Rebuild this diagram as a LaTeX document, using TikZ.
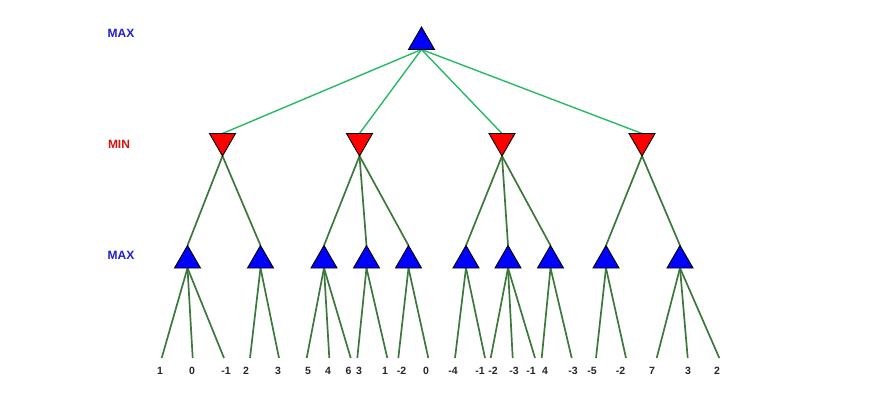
\documentclass[tikz,border=0pt]{standalone}
\usepackage{fontspec}
\setmainfont{Liberation Sans}
\usetikzlibrary{shapes.geometric,backgrounds}
\definecolor{edgeup}{RGB}{40,185,100}
\definecolor{edgelow}{RGB}{60,120,60}
\definecolor{maxlbl}{RGB}{30,30,210}
\definecolor{minlbl}{RGB}{205,20,20}
\tikzset{
  maxnode/.style={regular polygon, regular polygon sides=3, minimum size=30pt, inner sep=0pt, outer sep=0pt, fill=blue, draw=black, line width=0.9pt},
  minnode/.style={maxnode, fill=red, shape border rotate=180},
  upedge/.style={draw=edgeup, line width=1.4pt},
  lowedge/.style={draw=edgelow, line width=1.7pt},
  leaflbl/.style={font=\bfseries\fontsize{10.5}{12}\selectfont, text=black!85, inner sep=0pt},
  lvllbl/.style={font=\bfseries\fontsize{12}{14}\selectfont, inner sep=0pt}
}
\begin{document}
\begin{tikzpicture}[x=1pt,y=-1pt]
\useasboundingbox (0,0) rectangle (869,402);
% level labels
\node[lvllbl, text=maxlbl] (l0) at (121,33) {MAX};
\node[lvllbl, text=minlbl] (l1) at (119,144) {MIN};
\node[lvllbl, text=maxlbl] (l2) at (121,255) {MAX};
% root
\node[maxnode] (r) at (421.5,42) {};
% MIN nodes
\foreach \n/\x in {m1/222.5, m2/359.5, m3/502, m4/642}
  \node[minnode] (\n) at (\x,141) {};
% MAX nodes
\foreach \n/\x in {a1/187.5, a2/260.5, a3/324, a4/366.5, a5/408.5, a6/466, a7/508, a8/550.5, a9/606, a10/680}
  \node[maxnode] (\n) at (\x,260.5) {};
% leaves: name/line-end x/label x/text
\foreach \n/\x/\lx/\t in {
  b1/161.7/160/1, b2/192.7/192/0, b3/224/226/-1,
  b4/250/246/2, b5/279/278/3,
  b6/306.7/308/5, b7/329.3/328/4, b8/350.7/348.5/6,
  b9/357.3/359/3, b10/387.3/385/1,
  b11/398.3/401.5/-2, b12/428.3/426/0,
  b13/455/453/-4, b14/485/480/-1,
  b15/490.7/493/-2, b16/512.7/514/-3, b17/535/531/-1,
  b18/541.7/545/4, b19/571.7/573/-3,
  b20/596/592/-5, b21/626/620.5/-2,
  b22/656.7/652/7, b23/687.7/688/3, b24/719.3/717/2}{
  \coordinate (\n) at (\x,358);
  \node[leaflbl] (t\n) at (\lx,371) {\t};
}
\begin{pgfonlayer}{background}
\foreach \m in {m1,m2,m3,m4}
  \draw[upedge] (r.south) -- (\m.north);
\foreach \m/\a in {m1/a1, m1/a2, m2/a3, m2/a4, m2/a5, m3/a6, m3/a7, m3/a8, m4/a9, m4/a10}
  \draw[lowedge] (\m.south) -- (\a.north);
\foreach \a/\b in {a1/b1, a1/b2, a1/b3, a2/b4, a2/b5, a3/b6, a3/b7, a3/b8, a4/b9, a4/b10, a5/b11, a5/b12, a6/b13, a6/b14, a7/b15, a7/b16, a7/b17, a8/b18, a8/b19, a9/b20, a9/b21, a10/b22, a10/b23, a10/b24}
  \draw[lowedge] (\a.south) -- (\b);
\end{pgfonlayer}
\end{tikzpicture}
\end{document}
